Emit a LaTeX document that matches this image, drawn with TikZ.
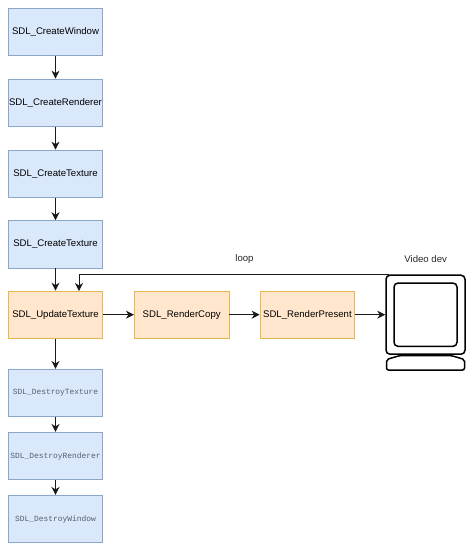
\documentclass[tikz,border=0pt]{standalone}
\usepackage{fontspec}
\setmainfont{Liberation Sans}
\newfontfamily\monofam{Liberation Mono}
\usetikzlibrary{arrows.meta}
\definecolor{bluefill}{HTML}{DAE8FC}
\definecolor{bluedraw}{HTML}{8AA6C8}
\definecolor{orfill}{HTML}{FFE6CC}
\definecolor{ordraw}{HTML}{E6B84A}
\definecolor{greytext}{HTML}{55606C}
\tikzset{
  x=1pt,y=-1pt,
  boxbase/.style={rectangle,minimum width=94.7pt,minimum height=47.3pt,inner sep=0pt,line width=0.8pt,font=\fontsize{9.6}{11}\selectfont,anchor=center},
  bluebox/.style={boxbase,draw=bluedraw,fill=bluefill},
  orbox/.style={boxbase,draw=ordraw,fill=orfill},
  greybox/.style={bluebox,text=greytext,font=\monofam\fontsize{7.9}{10}\selectfont},
  conn/.style={draw=black!90,line width=1pt,-{Stealth[length=8pt,width=8pt,inset=2.5pt]}},
  monpart/.style={draw=black,line width=1.5pt,fill=white,rounded corners=4pt,inner sep=0pt},
  lbl/.style={font=\fontsize{9.6}{11}\selectfont,text=black!85,inner sep=0pt}
}
\begin{document}
\begin{tikzpicture}
\useasboundingbox (0,0) rectangle (474,551);
\node[bluebox] (a) at (55.5,31.7) {SDL\_CreateWindow};
\node[bluebox] (b) at (55.5,102.7) {SDL\_CreateRenderer};
\node[bluebox] (c) at (55.5,173.7) {SDL\_CreateTexture};
\node[bluebox] (d) at (55.5,244.3) {SDL\_CreateTexture};
\node[orbox] (u) at (55.5,314.7) {SDL\_UpdateTexture};
\node[orbox] (rc) at (181.7,314.7) {SDL\_RenderCopy};
\node[orbox] (rp) at (307.4,314.7) {SDL\_RenderPresent};
\node[greybox] (e) at (55.5,393) {SDL\_DestroyTexture};
\node[greybox] (f) at (55.5,456) {SDL\_DestroyRenderer};
\node[greybox] (g) at (55.5,519) {SDL\_DestroyWindow};
% monitor
\node[monpart,minimum width=79pt,minimum height=79pt] (mon) at (425.5,314.7) {};
\node[monpart,minimum width=63pt,minimum height=63.3pt] (scr) at (425.5,314.7) {};
\coordinate (bl) at (386.5,370);
\draw[monpart,rounded corners=2pt] (386.5,359.5) -- (400,355.5) -- (451,355.5) -- (464.5,359.5) -- (464.5,370) -- (bl) -- cycle;
\node[lbl] (loop) at (244.5,259) {loop};
\node[lbl] (vd) at (425.7,259) {Video dev};
\coordinate (lp) at (79,291);
\draw[conn] (a) -- (b);
\draw[conn] (b) -- (c);
\draw[conn] (c) -- (d);
\draw[conn] (d) -- (u);
\draw[conn] (u) -- (rc);
\draw[conn] (rc) -- (rp);
\draw[conn] (rp) -- (mon);
\draw[conn] (u) -- (e);
\draw[conn] (e) -- (f);
\draw[conn] (f) -- (g);
\draw[conn] (mon.north west) ++(4,0) -| (lp);
\end{tikzpicture}
\end{document}
